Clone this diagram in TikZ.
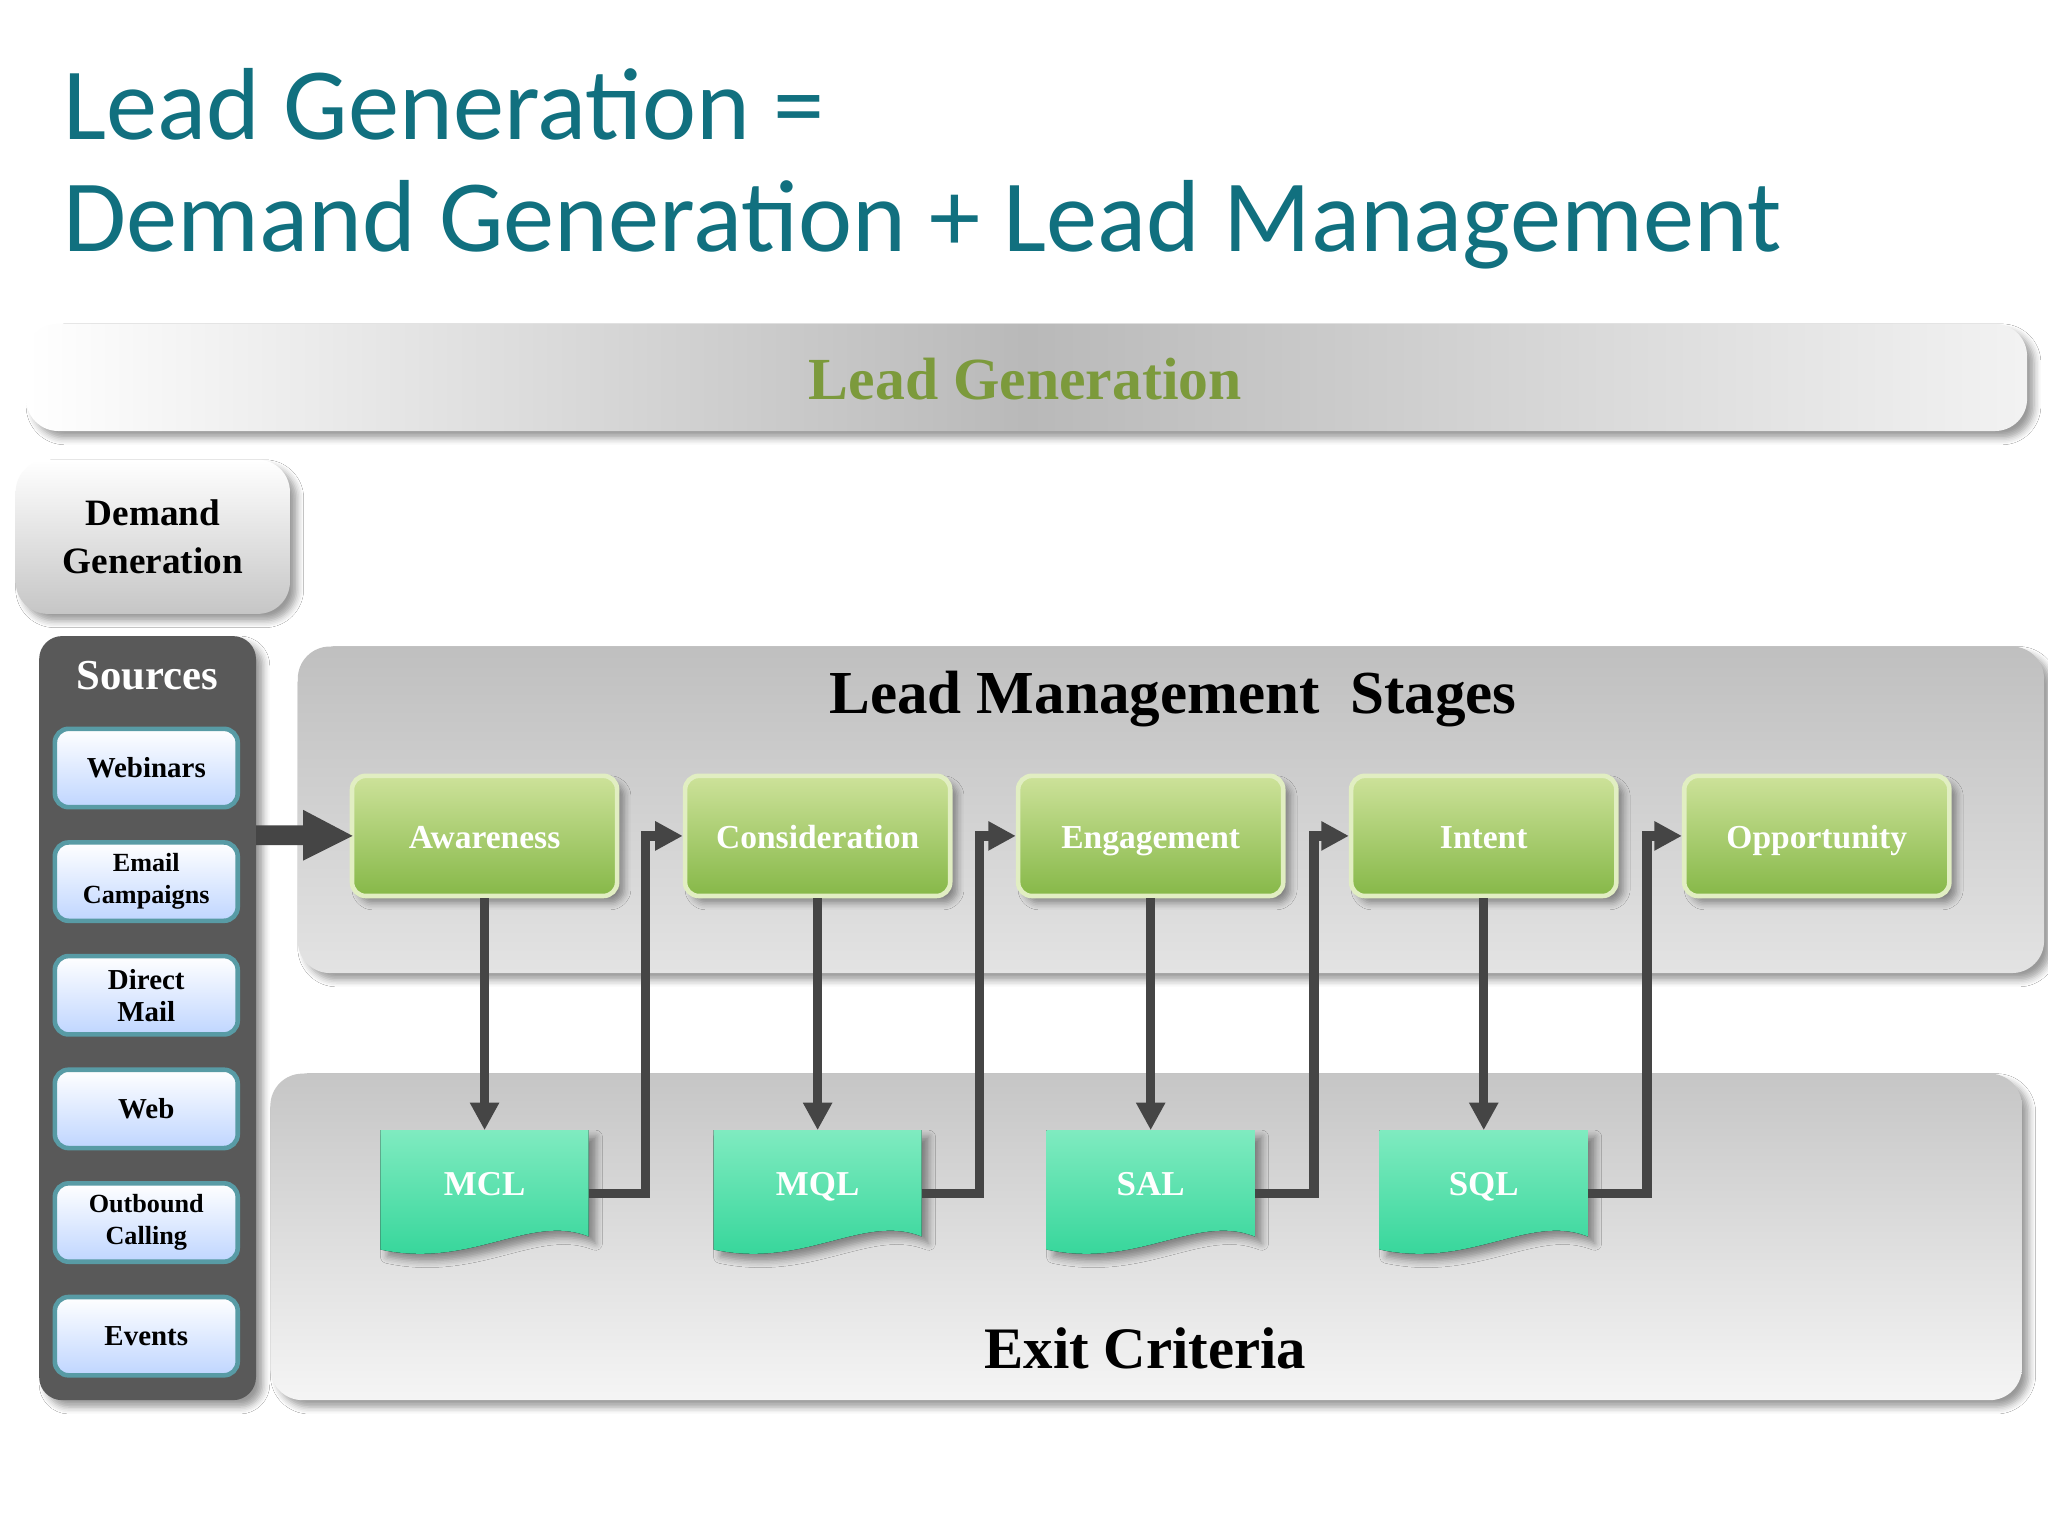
\documentclass[tikz,border=0pt]{standalone}
\usepackage{fontspec}
\setmainfont{Liberation Serif}
\newfontfamily\titlefont{Carlito}
\usetikzlibrary{arrows.meta,shadows.blur,calc}
\definecolor{teal1}{HTML}{11707F}
\definecolor{olive1}{HTML}{7C9A3C}
\definecolor{arr}{HTML}{454545}
\definecolor{stgtop}{HTML}{CDE29A}
\definecolor{stgbot}{HTML}{86B848}
\definecolor{doctop}{HTML}{7FEBC0}
\definecolor{docbot}{HTML}{2FD497}
\tikzset{
 x=0.01cm,y=-0.01cm,
 panel/.style={rounded corners=7pt, draw=none, blur shadow={shadow blur steps=5,shadow xshift=1.5pt,shadow yshift=-1.5pt,shadow blur radius=1.5pt}},
 srcbtn/.style={rounded corners=3pt, draw=teal1!70, line width=1pt, top color=white, bottom color=cyan!35!blue!25, minimum width=140*0.01cm, minimum height=60*0.01cm, align=center, font=\bfseries\fontsize{6.3}{7}\selectfont, inner sep=1pt},
 stage/.style={rounded corners=3pt, draw=stgtop!60!white, line width=1pt, top color=stgtop, bottom color=stgbot, minimum width=203*0.01cm, minimum height=92*0.01cm, text=white, text height=1.6ex, text depth=0.4ex, font=\bfseries\fontsize{7.3}{8}\selectfont, blur shadow={shadow blur steps=5,shadow xshift=1.5pt,shadow yshift=-1.5pt,shadow blur radius=1.5pt}},
 docnode/.style={minimum width=158*0.01cm, minimum height=80*0.01cm, inner sep=0pt, text=white, text height=1.6ex, text depth=0.4ex, font=\bfseries\fontsize{7.6}{8}\selectfont},
 flow/.style={draw=arr, line width=2pt, -{Triangle[length=6pt,width=6pt]}},
}
\begin{document}
\begin{tikzpicture}
\useasboundingbox[fill=white] (0,0) rectangle (1568,1176);
% title
\node[anchor=west, text=teal1, font=\titlefont\fontsize{22.3}{26}\selectfont, inner sep=0] (t1) at (48,80) {Lead Generation =};
\node[anchor=west, text=teal1, font=\titlefont\fontsize{22.3}{26}\selectfont, inner sep=0] (t2) at (48,172) {Demand Generation + Lead Management};
% banner
\path[panel, left color=white, right color=gray!10, middle color=gray!55] (20,248) rectangle (1552,330);
\node[text=olive1, font=\bfseries\fontsize{13}{14}\selectfont] (lg) at (785,290) {Lead Generation};
% demand generation
\path[panel, top color=white, bottom color=gray!45] (12,352) rectangle (222,470);
\node[align=center, font=\bfseries\fontsize{8.1}{10.3}\selectfont] (dg) at (117,411) {Demand\\Generation};
% sources panel
\path[panel, fill=gray!70!black, rounded corners=5pt] (30,487) rectangle (196,1072);
\node[text=white, font=\bfseries\fontsize{9.3}{10}\selectfont] (src) at (113,517) {Sources};
\node[srcbtn] (s1) at (112,588) {Webinars};
\node[srcbtn, font=\bfseries\fontsize{5.7}{6.9}\selectfont] (s2) at (112,675) {Email\\Campaigns};
\node[srcbtn] (s3) at (112,762) {Direct\\Mail};
\node[srcbtn] (s4) at (112,849) {Web};
\node[srcbtn, font=\bfseries\fontsize{5.7}{6.9}\selectfont] (s5) at (112,936) {Outbound\\Calling};
\node[srcbtn] (s6) at (112,1023) {Events};
% lead management panel
\path[panel, top color=gray!50, bottom color=gray!22] (228,495) rectangle (1565,745);
\node[font=\bfseries\fontsize{13.3}{15}\selectfont] (lms) at (898,535) {Lead Management\ \ Stages};
% exit panel
\path[panel, top color=gray!45, bottom color=gray!8] (207,822) rectangle (1548,1072);
\node[font=\bfseries\fontsize{12.8}{15}\selectfont] (ec) at (877,1032) {Exit Criteria};
% stages
\node[stage] (a) at (371,640) {Awareness};
\node[stage] (b) at (626,640) {Consideration};
\node[stage] (c) at (881,640) {Engagement};
\node[stage] (d) at (1136,640) {Intent};
\node[stage] (e) at (1391,640) {Opportunity};
% docs
\foreach \n/\x/\t in {m1/371/MCL,m2/626/MQL,m3/881/SAL,m4/1136/SQL}{
 \node[docnode] (\n) at (\x,906) {};
 \fill[top color=doctop, bottom color=docbot, blur shadow={shadow blur steps=5,shadow xshift=1.5pt,shadow yshift=-1.5pt,shadow blur radius=1.5pt}]
   (\n.north west) -- (\n.north east) -- (\n.south east)
   .. controls ($(\n.south east)+(-45,-18)$) and ($(\n.south)+(-10,25)$) .. ($(\n.south west)+(0,10)$) -- cycle;
 \node[docnode] at (\x,906) {\t};
}
% big arrow
\fill[arr] (196,632) -- (232,632) -- (232,620) -- (270,640) -- (232,659) -- (232,647) -- (196,647) -- cycle;
% flows
\foreach \s/\m in {a/m1,b/m2,c/m3,d/m4}{\draw[flow] (\s.south) -- (\m.north);}
\draw[flow] ($(m1.east)+(0,8)$) -- (494,914) |- (b.west);
\draw[flow] ($(m2.east)+(0,8)$) -- (750,914) |- (c.west);
\draw[flow] ($(m3.east)+(0,8)$) -- (1006,914) |- (d.west);
\draw[flow] ($(m4.east)+(0,8)$) -- (1261,914) |- (e.west);
\end{tikzpicture}
\end{document}
